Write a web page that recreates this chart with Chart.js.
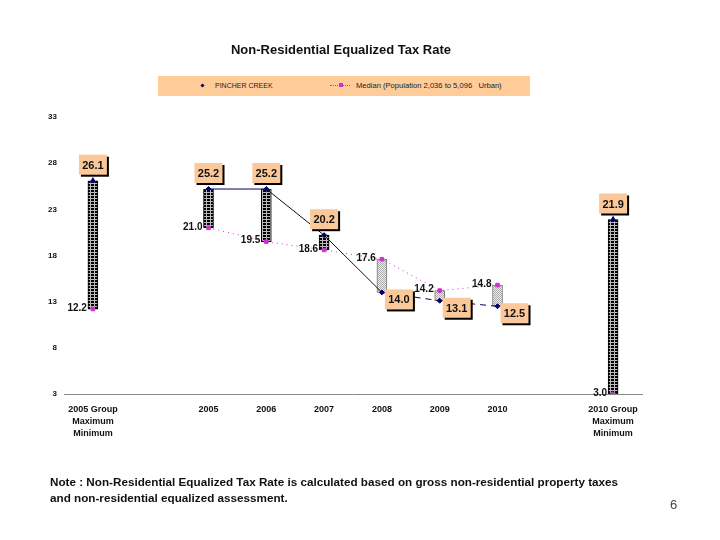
<!DOCTYPE html>
<html>
<head>
<meta charset="utf-8">
<script src="https://cdn.jsdelivr.net/npm/chart.js@4/dist/chart.umd.min.js"></script>
<style>
  body { margin: 0; background: #fff; font-family: 'Liberation Sans', Arial, sans-serif; }
  #wrap { position: relative; width: 720px; height: 540px; overflow: hidden; }
  #chart { position: absolute; left: 0; top: 0; }
  .title { position: absolute; left: 0; width: 682px; top: 42px; text-align: center; font-weight: bold; font-size: 13px; color: #111; }
  .legend { position: absolute; left: 158px; top: 76px; width: 372px; height: 20px; background: #FFCC99; font-size: 7px; color: #222; }
  .legend span { position: absolute; top: 6px; white-space: pre; }
  .dia { position: absolute; left: 43px; top: 8px; width: 3px; height: 3px; background: #000066; transform: rotate(45deg); }
  .dots { position: absolute; left: 172px; top: 9px; width: 20px; border-top: 1px dotted #cc33cc; }
  .sq { position: absolute; left: 181px; top: 7px; width: 4px; height: 4px; background: #cc33cc; }
  .note { position: absolute; left: 50px; top: 474px; font-weight: bold; font-size: 11.7px; line-height: 16px; color: #111; }
  .page { position: absolute; left: 670px; top: 497px; font-size: 13px; color: #444; }
</style>
</head>
<body>
<div id="wrap">
  <canvas id="chart" width="720" height="540"></canvas>
  <div class="title">Non-Residential Equalized Tax Rate</div>
  <div class="legend">
    <div class="dia"></div><span style="left:57px">PINCHER CREEK</span>
    <div class="dots"></div><div class="sq"></div><span style="left:198px;font-size:7.6px;top:5px">Median (Population 2,036 to 5,096   Urban)</span>
  </div>
  <div class="note">Note : Non-Residential Equalized Tax Rate is calculated based on gross non-residential property taxes<br>and non-residential equalized assessment.</div>
  <div class="page">6</div>
</div>
<script>
const categories = [['2005 Group', 'Maximum', 'Minimum'], '', '2005', '2006', '2007', '2008', '2009', '2010', '', ['2010 Group', 'Maximum', 'Minimum']];
const pincher = [null, null, 25.2, 25.2, 20.2, 14.0, 13.1, 12.5, null, null];
const median = [null, null, 21.0, 19.5, 18.6, 17.6, 14.2, 14.8, null, null];
const groupMax = [26.1, null, null, null, null, null, null, null, null, 21.9];
const groupMin = [12.2, null, null, null, null, null, null, null, null, 3.0];
const yTicks = [3, 8, 13, 18, 23, 28, 33];

function makePattern(w, h, draw) {
    const c = document.createElement('canvas');
    c.width = w; c.height = h;
    draw(c.getContext('2d'));
    return c.getContext('2d').createPattern(c, 'repeat');
}
const darkFill = makePattern(4, 3, g => {
    g.fillStyle = '#000'; g.fillRect(0, 0, 4, 3);
    g.fillStyle = '#bbb'; g.fillRect(2, 0, 1, 3); g.fillRect(0, 0, 4, 1);
});
const lightFill = makePattern(2, 2, g => {
    g.fillStyle = '#eee'; g.fillRect(0, 0, 2, 2);
    g.fillStyle = '#aaa'; g.fillRect(0, 0, 1, 1); g.fillRect(1, 1, 1, 1);
});

// up/down bars between the two series, plus group max/min columns
const bars = categories.map((c, i) => {
    if (groupMax[i] != null) return [groupMin[i], groupMax[i]];
    if (pincher[i] != null) return [Math.min(pincher[i], median[i]), Math.max(pincher[i], median[i])];
    return null;
});
const isDown = i => pincher[i] != null && pincher[i] < median[i];

const labelPlugin = {
    id: 'labels',
    afterDatasetsDraw(chart) {
        const g = chart.ctx;
        const xs = chart.scales.x, ys = chart.scales.y;
        g.save();
        g.font = 'bold 11px "Liberation Sans", Arial';
        g.textAlign = 'center';
        g.textBaseline = 'middle';
        const box = (txt, cx, cy) => {
            const w = 28, h = 20;
            g.fillStyle = '#000';
            g.fillRect(cx - w / 2 + 2, cy - h / 2 + 2, w, h);
            g.fillStyle = '#FBC899';
            g.fillRect(cx - w / 2, cy - h / 2, w, h);
            g.fillStyle = '#111';
            g.fillText(txt, cx, cy + 1);
        };
        categories.forEach((c, i) => {
            const x = xs.getPixelForValue(i);
            const top = groupMax[i] != null ? groupMax[i] : pincher[i];
            if (top != null) {
                const y = ys.getPixelForValue(top);
                if (isDown(i)) box(top.toFixed(1), x + 17, y + 7);
                else box(top.toFixed(1), x, y - 16);
            }
        });
        g.font = 'bold 10px "Liberation Sans", Arial';
        g.textAlign = 'right';
        g.fillStyle = '#111';
        categories.forEach((c, i) => {
            const low = groupMin[i] != null ? groupMin[i] : median[i];
            if (low == null) return;
            const x = xs.getPixelForValue(i);
            const y = ys.getPixelForValue(low);
            g.fillText(low.toFixed(1), x - 6, y - 1);
        });
        g.restore();
    }
};

new Chart(document.getElementById('chart'), {
    type: 'bar',
    plugins: [labelPlugin],
    data: {
        labels: categories,
        datasets: [
            {
                type: 'line',
                label: 'PINCHER CREEK',
                data: pincher,
                borderColor: '#000066',
                borderWidth: 1,
                pointStyle: 'rectRot',
                pointRadius: 2.5,
                pointBackgroundColor: '#000066',
                pointBorderColor: '#000066',
                segment: {
                    borderDash: ctx => ctx.p0DataIndex >= 5 ? [6, 5] : undefined,
                    borderColor: ctx => ctx.p0DataIndex >= 3 && ctx.p0DataIndex < 5 ? '#111' : '#000066'
                },
                order: 1
            },
            {
                type: 'line',
                label: 'Median (Population 2,036 to 5,096   Urban)',
                data: median,
                borderColor: '#cc33cc',
                borderWidth: 1,
                borderDash: [1, 4],
                pointStyle: 'rect',
                pointRadius: 2.5,
                pointBackgroundColor: '#cc33cc',
                pointBorderColor: '#cc33cc',
                order: 1
            },
            {
                type: 'line',
                label: 'Group Maximum',
                data: groupMax,
                showLine: false,
                pointStyle: 'triangle',
                pointRadius: 3,
                pointBackgroundColor: '#000066',
                pointBorderColor: '#000066',
                order: 1
            },
            {
                type: 'line',
                label: 'Group Minimum',
                data: groupMin,
                showLine: false,
                pointStyle: 'rect',
                pointRadius: 2.5,
                pointBackgroundColor: '#cc33cc',
                pointBorderColor: '#cc33cc',
                order: 1
            },
            {
                label: 'Range',
                data: bars,
                barThickness: 10,
                backgroundColor: ctx => isDown(ctx.dataIndex) ? lightFill : darkFill,
                borderColor: ctx => isDown(ctx.dataIndex) ? '#777' : '#000',
                borderWidth: 1,
                borderSkipped: false,
                order: 2
            }
        ]
    },
    options: {
        responsive: false,
        animation: false,
        layout: { padding: { left: 42, right: 78, top: 117, bottom: 96 } },
        plugins: { legend: { display: false }, tooltip: { enabled: false } },
        scales: {
            x: {
                offset: true,
                grid: { display: false, drawTicks: false },
                border: { display: true, color: '#888', width: 1 },
                ticks: {
                    padding: 9,
                    maxRotation: 0,
                    autoSkip: false,
                    color: '#111',
                    font: { family: '"Liberation Sans", Arial', size: 9, weight: 'bold', lineHeight: 1.35 }
                },
                afterFit: s => { s.height = 50; }
            },
            y: {
                min: 3,
                max: 33,
                afterBuildTicks: s => { s.ticks = yTicks.map(v => ({ value: v })); },
                grid: { display: false, drawTicks: false },
                border: { display: false },
                ticks: {
                    padding: 7,
                    color: '#111',
                    font: { family: '"Liberation Sans", Arial', size: 8, weight: 'bold' }
                },
                afterFit: s => { s.width = 22; }
            }
        }
    }
});
</script>
</body>
</html>
